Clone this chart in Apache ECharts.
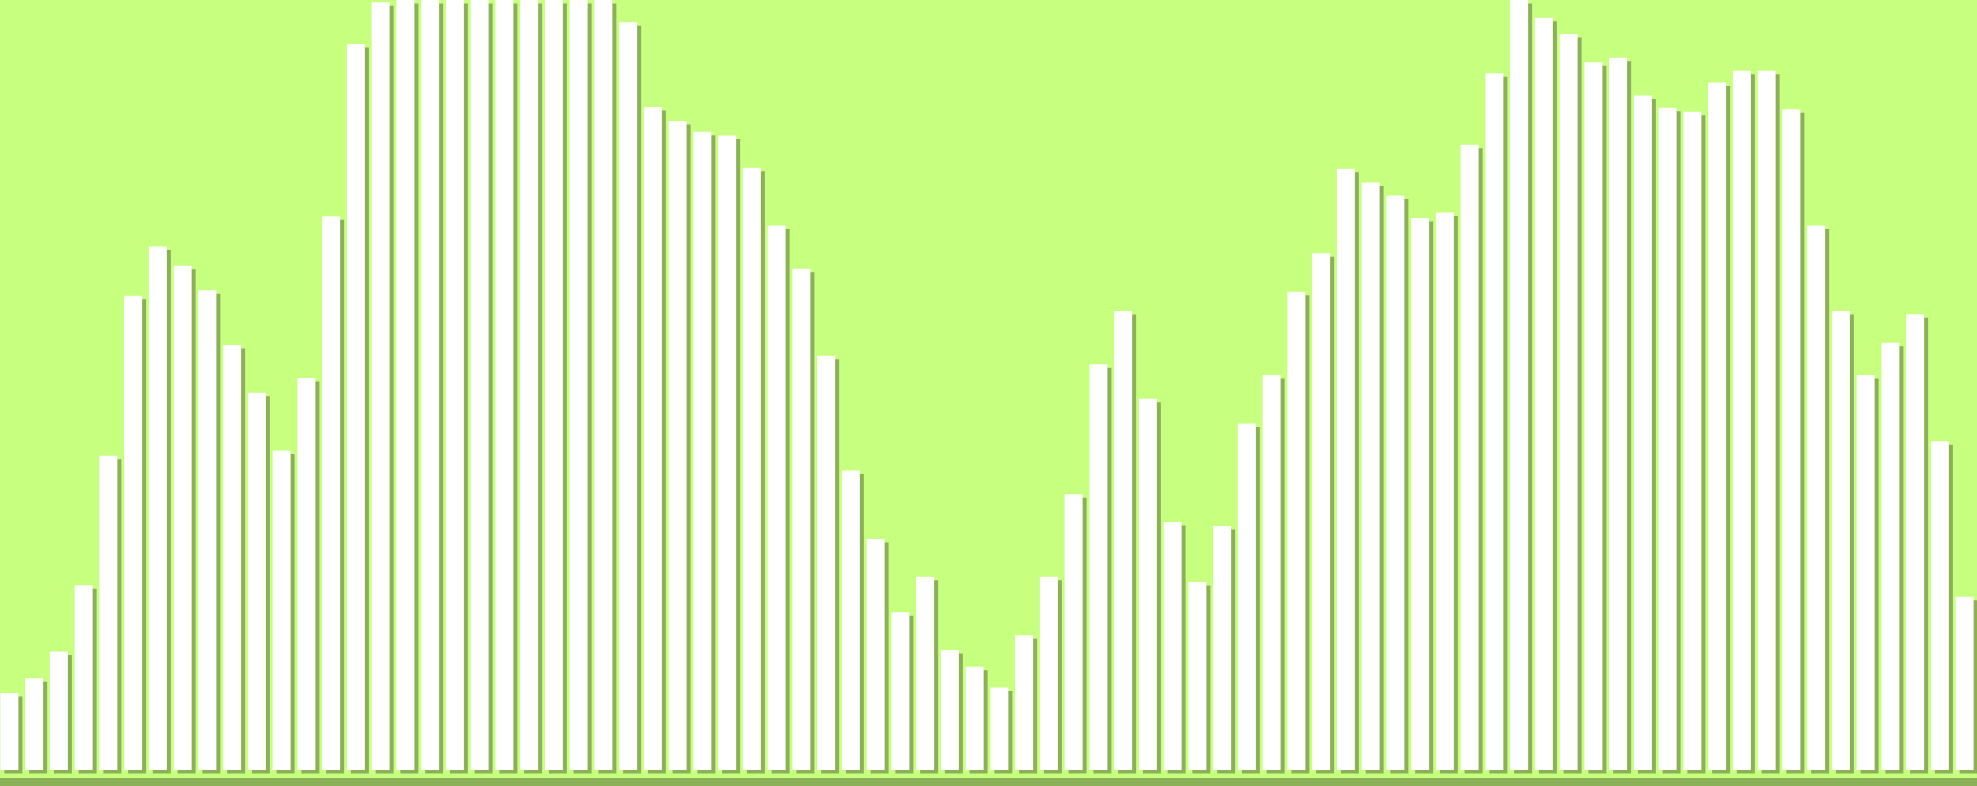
<!DOCTYPE html>
<html>
<head>
<meta charset="utf-8">
<script src="https://cdn.jsdelivr.net/npm/echarts@6/dist/echarts.min.js"></script>
<style>
  html, body { margin: 0; padding: 0; background: #c7ff7f; overflow: hidden; }
  #chart { position: absolute; left: -3px; top: 0; width: 1980px; height: 786px; }
</style>
</head>
<body>
<div id="chart"></div>
<script>
// Categories (80 consecutive periods)
const categories = [];
for (let i = 1; i <= 80; i++) categories.push(String(i));

// Bar values (axis 0..100; bars above 100 run off the top)
const values = [
  10.0, 11.9, 15.4, 24.0, 40.8, 61.6, 68.0, 65.5, 62.3, 55.2,
  49.0, 41.5, 50.9, 71.9, 94.3, 99.7, 108, 112, 115, 118,
  120, 117, 113, 110, 106, 97.1, 86.1, 84.3, 82.9, 82.4,
  78.2, 70.7, 65.1, 53.8, 38.9, 30.0, 20.5, 25.1, 15.6, 13.4,
  10.7, 17.5, 25.1, 35.8, 52.7, 59.6, 48.2, 32.2, 24.4, 31.7,
  45.0, 51.3, 62.1, 67.1, 78.1, 76.3, 74.6, 71.7, 72.4, 81.2,
  90.5, 101.5, 97.7, 95.6, 91.9, 92.5, 87.6, 86.0, 85.5, 89.3,
  90.8, 90.8, 85.8, 70.7, 59.6, 51.3, 55.5, 59.2, 42.7, 22.5
];

const yMin = 0;
const yMax = 100;

const chart = echarts.init(document.getElementById('chart'), null, { renderer: 'canvas' });
chart.setOption({
  backgroundColor: '#c7ff7f',
  animation: false,
  grid: { left: 0, right: 0, top: 0, bottom: 16, containLabel: false },
  xAxis: {
    type: 'category',
    data: categories,
    offset: 12,
    axisLine: { show: true, onZero: false, lineStyle: { color: '#8bb058', width: 8, cap: 'butt' } },
    axisTick: { show: false },
    axisLabel: { show: false },
    splitLine: { show: false }
  },
  yAxis: {
    type: 'value',
    min: yMin,
    max: yMax,
    show: false,
    splitLine: { show: false }
  },
  series: [{
    type: 'bar',
    data: values,
    barWidth: 18,
    clip: true,
    itemStyle: {
      color: '#ffffff',
      shadowColor: '#8bb058',
      shadowBlur: 0,
      shadowOffsetX: 4,
      shadowOffsetY: 3.5
    }
  }]
});
</script>
</body>
</html>
